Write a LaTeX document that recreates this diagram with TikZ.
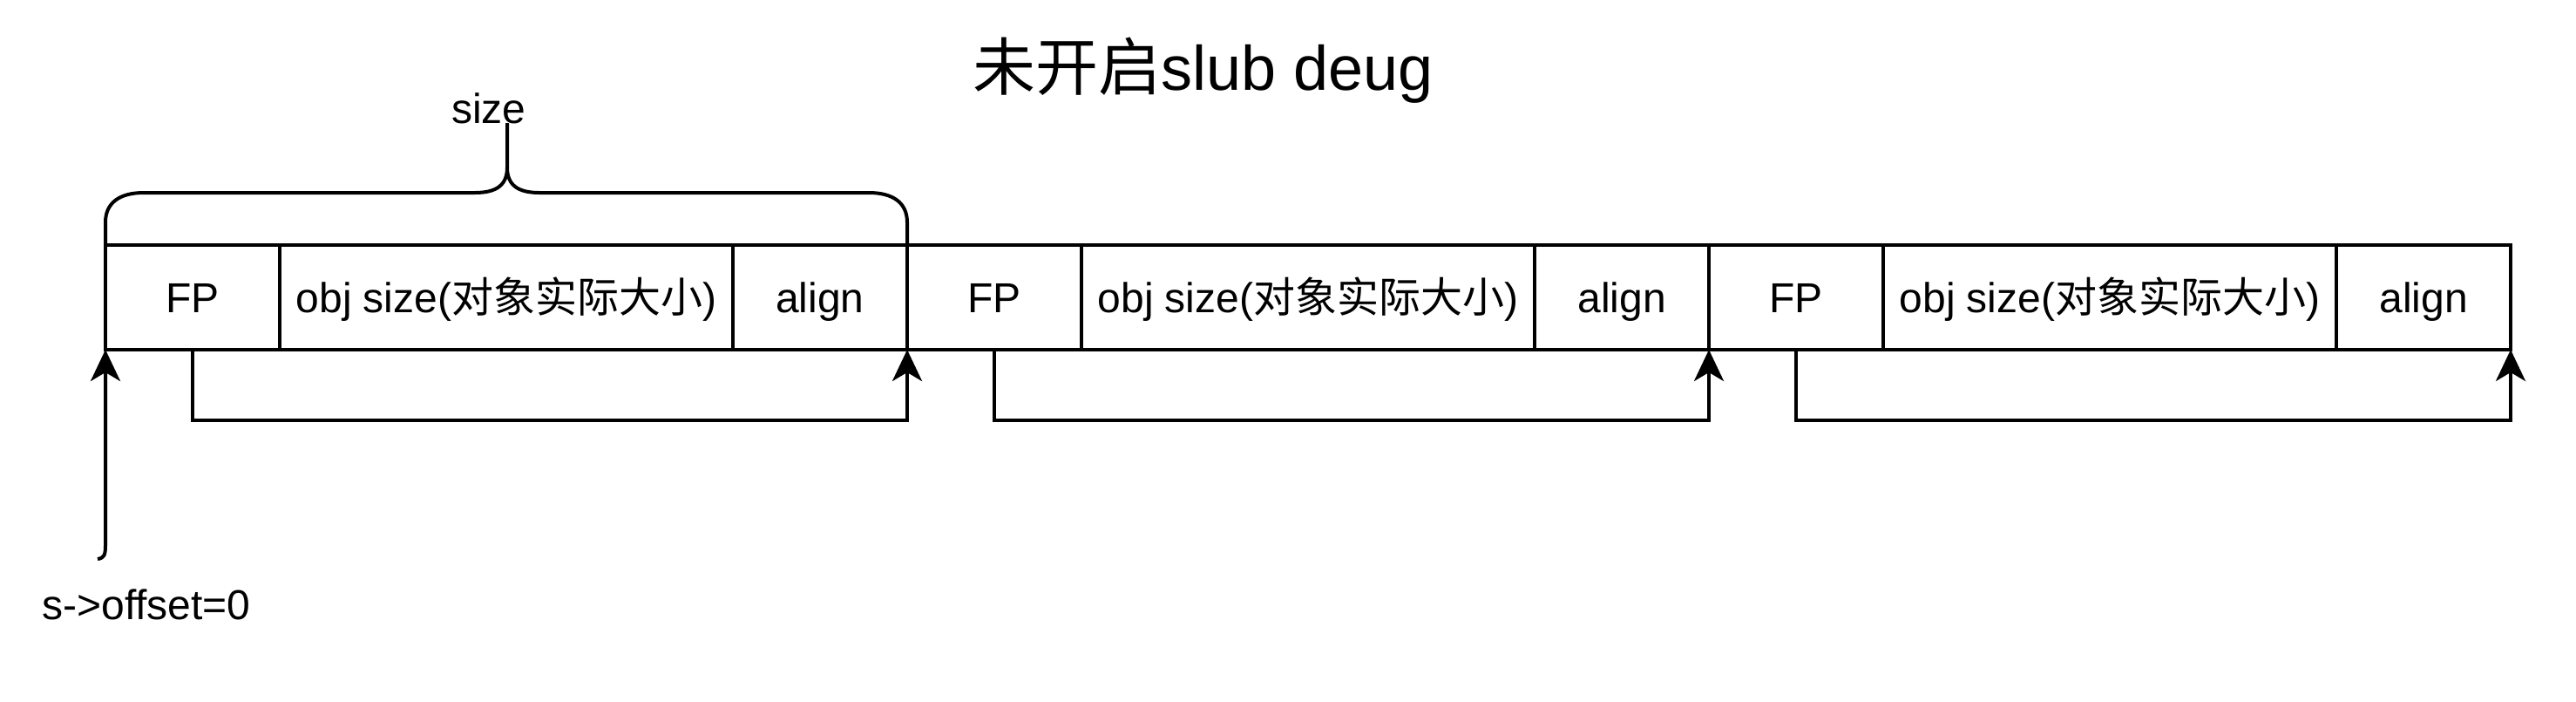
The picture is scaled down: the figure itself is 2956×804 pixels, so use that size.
\documentclass[tikz,border=0pt]{standalone}
\usepackage{fontspec}
\setmainfont{Liberation Sans}
\newfontfamily\cjk{Noto Sans CJK SC}
\usetikzlibrary{arrows.meta,calc}
\begin{document}
\begin{tikzpicture}[x=0.5pt,y=-0.5pt,
  cell/.style={draw, line width=2pt, minimum height=60pt, inner sep=0pt, outer sep=0pt,
    anchor=north west, font=\fontsize{24}{24}\selectfont, text height=17.5pt, text depth=0pt},
  fpc/.style={cell, minimum width=100pt},
  objc/.style={cell, minimum width=260pt},
  alc/.style={cell, minimum width=100pt},
  conn/.style={line width=2pt, -{Stealth[length=18pt,width=17pt,inset=5pt]}},
  lbl/.style={font=\fontsize{24}{24}\selectfont, inner sep=0pt},
  brace/.style={line width=2pt}
  ]
\useasboundingbox (0,0) rectangle (2956,804);

% title
\node[font=\fontsize{36}{36}\selectfont, anchor=base, inner sep=0pt] (title) at (1381,103) {{\cjk 未开启}slub deug};

% block 1
\node[fpc] (fp1) at (121,281) {FP};
\node[objc] (ob1) at (fp1.north east) {obj size({\cjk 对象实际大小})};
\node[alc] (al1) at (ob1.north east) {align};
% block 2
\node[fpc] (fp2) at (al1.north east) {FP};
\node[objc] (ob2) at (fp2.north east) {obj size({\cjk 对象实际大小})};
\node[alc] (al2) at (ob2.north east) {align};
% block 3
\node[fpc] (fp3) at (al2.north east) {FP};
\node[objc] (ob3) at (fp3.north east) {obj size({\cjk 对象实际大小})};
\node[alc] (al3) at (ob3.north east) {align};

% FP connectors
\draw[conn] (fp1.south) -- ++(0,81) -| (al1.south east);
\draw[conn] (fp2.south) -- ++(0,81) -| (al2.south east);
\draw[conn] (fp3.south) -- ++(0,81) -| (al3.south east);

% start pointer
\node[lbl, anchor=base west] (off) at (48,710) {s->offset=0};
\coordinate (s0) at (112,641);
\draw[conn] (s0) .. controls (119,640) and (121,637) .. (121,626) -- (fp1.south west);

% brace
\node[lbl, anchor=base] (sz) at (561,141) {size};
\coordinate (bpk) at (582,141);
\draw[brace] (fp1.north west) -- (121,255) .. controls (121,232) and (138,221) .. (165,221)
  -- (545,221) .. controls (570,221) and (582,212) .. (582,192) -- (bpk);
\draw[brace] (582,192) .. controls (582,212) and (594,221) .. (619,221)
  -- (997,221) .. controls (1024,221) and (1041,232) .. (1041,255) -- (al1.north east);
\end{tikzpicture}
\end{document}
